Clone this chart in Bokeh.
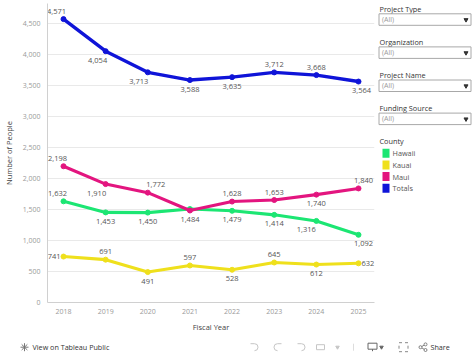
import math
from bokeh.plotting import figure
from bokeh.models import Range1d, ColumnDataSource, FixedTicker, NumeralTickFormatter
from bokeh.layouts import column, row
from bokeh.embed import file_html
from bokeh.resources import INLINE
from bokeh.core.properties import value

# ---------------- data ----------------
years = [2018, 2019, 2020, 2021, 2022, 2023, 2024, 2025]
hawaii = [1632, 1453, 1450, 1507, 1479, 1414, 1316, 1092]
kauai = [741, 691, 491, 597, 528, 645, 612, 632]
maui = [2198, 1910, 1772, 1484, 1628, 1653, 1740, 1840]
totals = [4571, 4054, 3713, 3588, 3635, 3712, 3668, 3564]
series_names = ["Hawaii", "Kauai", "Maui", "Totals"]
series_values = [hawaii, kauai, maui, totals]
series_colors = ["#1ce673", "#efe01c", "#e3157f", "#0f14d8"]
y_ticks = [0, 500, 1000, 1500, 2000, 2500, 3000, 3500, 4000, 4500]
x_title = "Fiscal Year"
y_title = "Number of People"
filter_titles = ["Project Type", "Organization", "Project Name", "Funding Source"]
filter_values = ["(All)", "(All)", "(All)", "(All)"]
legend_title = "County"
footer_text = "View on Tableau Public"
share_text = "Share"

# ---------------- label placement (style) ----------------
label_pos = {
    "Hawaii": ["a", "b", "b", "", "b", "b", "b", "b"],
    "Kauai": ["l", "a", "b", "a", "b", "a", "b", "r"],
    "Maui": ["a", "b", "a", "b", "a", "a", "b", "a"],
    "Totals": ["a", "b", "b", "b", "b", "a", "a", "b"],
}
label_dx = {
    "Hawaii": [-6, 0, 0, 0, 0, 0, -10, 5],
    "Kauai": [0, 0, 0, 0, 0, 0, 0, 0],
    "Maui": [-6, -9, 8, 0, 0, 0, 0, 5],
    "Totals": [-7, -8, -9, 0, 0, 0, 0, 3],
}

FONT = "Open Sans"
TXT = "#444444"
TOP, BOTTOM_BORDER, H = 3, 36, 338
FRAME_BOTTOM = H - BOTTOM_BORDER

# ---------------- main chart ----------------
p = figure(width=376, height=H,
           x_range=Range1d(2017.62, 2025.38), y_range=Range1d(0, 4823),
           output_backend="svg", toolbar_location=None,
           min_border_left=44, min_border_right=2, min_border_top=TOP,
           min_border_bottom=BOTTOM_BORDER)
p.outline_line_color = None
p.background_fill_color = "white"
p.border_fill_color = "white"
p.xgrid.grid_line_color = None
p.ygrid.grid_line_color = "#e9e9e9"
p.ygrid.ticker = FixedTicker(ticks=y_ticks)

p.yaxis.ticker = FixedTicker(ticks=y_ticks)
p.yaxis.formatter = NumeralTickFormatter(format="0,0")
p.xaxis.ticker = FixedTicker(ticks=years)
for ax in (p.xaxis[0], p.yaxis[0]):
    ax.axis_line_color = "#d0d0d0"
    ax.major_tick_line_color = None
    ax.minor_tick_line_color = None
    ax.major_tick_out = 0
    ax.major_tick_in = 0
    ax.minor_tick_out = 0
    ax.major_label_text_font = FONT
    ax.major_label_text_font_size = "7px"
    ax.major_label_text_color = "#9a9a9a"
    ax.axis_label_text_font = FONT
    ax.axis_label_text_font_size = "7.5px"
    ax.axis_label_text_color = TXT
    ax.axis_label_text_font_style = "normal"
p.xaxis.axis_label = x_title
p.yaxis.axis_label = y_title
p.xaxis.major_label_standoff = 6
p.xaxis.axis_label_standoff = 5
p.yaxis.major_label_standoff = 7
p.yaxis.axis_label_standoff = 6

for name, vals, col in zip(series_names, series_values, series_colors):
    src = ColumnDataSource(dict(x=years, y=vals))
    p.line("x", "y", source=src, line_color=col, line_width=3.4 if name == "Totals" else 3.1)
    p.scatter("x", "y", source=src, size=5, fill_color=col, line_color=col)

for name, vals in zip(series_names, series_values):
    xs, ys, txt, xo, yo, al = [], [], [], [], [], []
    for i, (yr, v) in enumerate(zip(years, vals)):
        pos = label_pos[name][i]
        if not pos:
            continue
        xs.append(yr)
        ys.append(v)
        txt.append(f"{v:,}")
        if pos == "a":
            xo.append(label_dx[name][i]); yo.append(-8); al.append("center")
        elif pos == "b":
            xo.append(label_dx[name][i]); yo.append(9); al.append("center")
        elif pos == "l":
            xo.append(-3); yo.append(0); al.append("right")
        else:
            xo.append(3); yo.append(0); al.append("left")
    src = ColumnDataSource(dict(x=xs, y=ys, t=txt, xo=xo, yo=yo, al=al))
    p.text("x", "y", text="t", source=src, x_offset="xo", y_offset="yo",
           text_align="al", text_baseline="middle",
           text_font=value(FONT), text_font_size="7.5px", text_color="#555555")

# ---------------- side panel (filters + legend) ----------------
# frame is aligned with the main chart's frame, so its data units are page pixels
SX0, SW = 376, 98
s = figure(width=SW, height=H, x_range=Range1d(SX0, SX0 + SW),
           y_range=Range1d(FRAME_BOTTOM, TOP),
           output_backend="svg", toolbar_location=None,
           x_axis_type=None, y_axis_type=None,
           min_border_left=0, min_border_right=0, min_border_top=TOP,
           min_border_bottom=BOTTOM_BORDER)
s.outline_line_color = None
s.xgrid.visible = False
s.ygrid.visible = False

title_x = 379
box_l, box_r = 378.5, 470.5
title_y0, title_step = 8.3, 33.1
ty = [title_y0 + i * title_step for i in range(len(filter_titles))]
s.text(x=[title_x] * len(ty), y=ty, text=filter_titles, text_baseline="middle",
       text_font=value(FONT), text_font_size="7.3px", text_color="#333333")
s.quad(left=[box_l] * len(ty), right=[box_r] * len(ty),
       top=[t + 5 for t in ty], bottom=[t + 16.5 for t in ty],
       fill_color="white", line_color="#a8a8a8", line_width=1)
s.text(x=[381.5] * len(ty), y=[t + 10.8 for t in ty], text=filter_values, text_baseline="middle",
       text_font=value(FONT), text_font_size="7px", text_color="#9a9a9a")
s.scatter(x=[465.5] * len(ty), y=[t + 11 for t in ty], marker="inverted_triangle",
          size=4, fill_color="#333333", line_color="#333333")

leg_title_y = title_y0 + len(filter_titles) * title_step
s.text(x=[title_x], y=[leg_title_y], text=[legend_title], text_baseline="middle",
       text_font=value(FONT), text_font_size="7.3px", text_color="#333333")
ly = [leg_title_y + 12 + i * 11.7 for i in range(len(series_names))]
s.rect(x=[385.5] * len(ly), y=ly, width=7, height=9, fill_color=series_colors,
       line_color=None)
s.text(x=[392] * len(ly), y=ly, text=series_names, text_baseline="middle",
       text_font=value(FONT), text_font_size="7.3px", text_color="#555555")

# ---------------- footer toolbar ----------------
f = figure(width=474, height=17, x_range=Range1d(0, 474), y_range=Range1d(0, 17),
           output_backend="svg", toolbar_location=None,
           x_axis_type=None, y_axis_type=None, min_border=0)
f.outline_line_color = None
f.xgrid.visible = False
f.ygrid.visible = False
cy = 8.3
f.scatter(x=[24], y=[cy], marker="asterisk", size=8, line_color="#777777", line_width=1)
f.text(x=[32], y=[cy], text=[footer_text], text_baseline="middle",
       text_font=value(FONT), text_font_size="7.2px", text_color="#333333")
light = "#c6c6c6"
dark = "#666666"
# undo / redo / revert
f.arc(x=[254, 301], y=[cy, cy], radius=3.5, start_angle=-math.pi / 2, end_angle=math.pi / 2,
      line_color=light, line_width=1)
f.segment(x0=[254, 301], y0=[cy + 3.5] * 2, x1=[250, 297], y1=[cy + 3.5] * 2,
          line_color=light, line_width=1)
f.arc(x=[277], y=[cy], radius=3.5, start_angle=math.pi / 2, end_angle=3 * math.pi / 2,
      line_color=light, line_width=1)
f.segment(x0=[277], y0=[cy + 3.5], x1=[281], y1=[cy + 3.5], line_color=light, line_width=1)
f.rect(x=[320], y=[cy], width=8, height=5, fill_color=None, line_color=light, line_width=1)
f.scatter(x=[337], y=[cy], marker="inverted_triangle", size=3.5, fill_color=light, line_color=light)
f.segment(x0=[353], y0=[cy - 3.5], x1=[353], y1=[cy + 3.5], line_color="#dddddd", line_width=1)
# present
f.rect(x=[372], y=[cy + 1], width=9, height=6, fill_color=None, line_color=dark, line_width=1)
f.segment(x0=[372], y0=[cy - 2], x1=[372], y1=[cy - 4], line_color=dark, line_width=1)
f.scatter(x=[381], y=[cy], marker="inverted_triangle", size=3.5, fill_color=dark, line_color=dark)
# fullscreen
f.rect(x=[403], y=[cy], width=9, height=9, fill_color=None, line_color="#888888",
       line_width=1, line_dash="3 3")
# share
f.segment(x0=[420, 420], y0=[cy, cy], x1=[425, 425], y1=[cy + 2.8, cy - 2.8],
          line_color=dark, line_width=0.8)
f.scatter(x=[420, 425, 425], y=[cy, cy + 2.8, cy - 2.8], size=3, fill_color="white",
          line_color=dark, line_width=0.8)
f.text(x=[430], y=[cy], text=[share_text], text_baseline="middle",
       text_font=value(FONT), text_font_size="7.2px", text_color="#333333")

layout = column(row(p, s, spacing=0), f, spacing=0)
open("out.html", "w").write(file_html(layout, INLINE))
